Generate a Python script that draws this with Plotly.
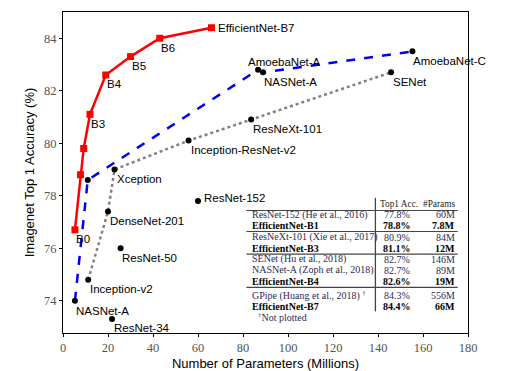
import plotly.graph_objects as go

# ---------------- data ----------------
eff_names = ["B0", "B1", "B2", "B3", "B4", "B5", "B6", "EfficientNet-B7"]
eff_params = [5.3, 7.8, 9.2, 12, 19, 30, 43, 66]
eff_acc = [76.7, 78.8, 79.8, 81.1, 82.6, 83.3, 84.0, 84.4]
eff_show_label = [True, False, False, True, True, True, True, True]

nas_names = ["NASNet-A", "", "AmoebaNet-A", "NASNet-A", "AmoebaNet-C"]
nas_params = [5.3, 11.0, 86.7, 88.9, 155.3]
nas_acc = [74.0, 78.6, 82.8, 82.7, 83.5]

gray_names = ["Inception-v2", "DenseNet-201", "Xception", "Inception-ResNet-v2", "ResNeXt-101", "SENet"]
gray_params = [11.2, 20.0, 22.9, 55.8, 83.6, 145.8]
gray_acc = [74.8, 77.4, 79.0, 80.1, 80.9, 82.7]

solo_names = ["ResNet-152", "ResNet-50", "ResNet-34"]
solo_params = [60.0, 25.6, 21.8]
solo_acc = [77.8, 76.0, 73.3]

x_ticks = [0, 20, 40, 60, 80, 100, 120, 140, 160, 180]
y_ticks = [74, 76, 78, 80, 82, 84]

tbl_model = ["ResNet-152", "EfficientNet-B1", "ResNeXt-101", "EfficientNet-B3",
             "SENet", "NASNet-A", "EfficientNet-B4", "GPipe", "EfficientNet-B7"]
tbl_cite = ["(He et al., 2016)", "", "(Xie et al., 2017)", "",
            "(Hu et al., 2018)", "(Zoph et al., 2018)", "", "(Huang et al., 2018) †", ""]
tbl_acc = ["77.8%", "78.8%", "80.9%", "81.1%", "82.7%", "82.7%", "82.6%", "84.3%", "84.4%"]
tbl_params = ["60M", "7.8M", "84M", "12M", "146M", "89M", "19M", "556M", "66M"]
tbl_bold = [False, True, False, True, False, False, True, False, True]

# ---------------- layout helpers ----------------
OFF = 8  # page body margin in the browser
W, H = 512 - OFF, 371 - OFF
# plot area in page pixels: x 63.3..468.3, y 12..333.3
PL, PR, PT, PB = 63.3, 468.3, 12.0, 333.3
ML = PL - OFF
MR = W - (PR - OFF)
MT = PT - OFF
MB = H - (PB - OFF)
XR = [0, 180]
YR = [72.77, 85.0]

def px_to_paper(px, py):
    return (px - PL) / (PR - PL), (PB - py) / (PB - PT)

SANS = "Liberation Sans, Arial, sans-serif"
SERIF = "Liberation Serif, Times New Roman, serif"

fig = go.Figure()

fig.add_trace(go.Scatter(x=gray_params, y=gray_acc, mode="lines+markers",
                         line=dict(color="#808080", width=2.5, dash="dot"),
                         marker=dict(color="black", size=6), hoverinfo="skip"))
fig.add_trace(go.Scatter(x=nas_params, y=nas_acc, mode="lines+markers",
                         line=dict(color="#0000ee", width=2.5, dash="dash"),
                         marker=dict(color="black", size=6), hoverinfo="skip"))
fig.add_trace(go.Scatter(x=solo_params, y=solo_acc, mode="markers",
                         marker=dict(color="black", size=6), hoverinfo="skip"))
fig.add_trace(go.Scatter(x=eff_params, y=eff_acc, mode="lines+markers",
                         line=dict(color="#ff0000", width=2.5),
                         marker=dict(color="#ff0000", size=7, symbol="square"), hoverinfo="skip"))

lab_font = dict(family=SANS, size=11.5, color="black")

def label(x, y, text, xs=0, ys=-10, xa="left", ya="middle"):
    fig.add_annotation(x=x, y=y, text=text, showarrow=False, xanchor=xa, yanchor=ya,
                       xshift=xs, yshift=ys, font=lab_font)

for n, x, y, s in zip(eff_names, eff_params, eff_acc, eff_show_label):
    if not s:
        continue
    if n.startswith("Efficient"):
        label(x, y, n, xs=4, ys=0)
    else:
        label(x, y, n, xs=-1, ys=-9.5)

for n, x, y in zip(nas_names, nas_params, nas_acc):
    if not n:
        continue
    if n == "AmoebaNet-A":
        label(x, y, n, xs=-12, ys=7.6)
    else:
        label(x, y, n, xs=-1, ys=-10)

for n, x, y in zip(gray_names, gray_params, gray_acc):
    label(x, y, n, xs=0, ys=-9.6)

for n, x, y in zip(solo_names, solo_params, solo_acc):
    if n == "ResNet-152":
        label(x, y, n, xs=4, ys=3)
    else:
        label(x, y, n, xs=-0.5, ys=-9.3)

# ---------------- table (positions in page pixels) ----------------
tx0, tx1 = 246.7, 458.0
vline_x = 375.7
row_ys = [215.0, 225.7, 237.5, 248.3, 259.7, 270.5, 281.3, 295.3, 306.3]
sep_ys = [231.7, 254.3, 287.7]
acc_cx, par_rx, name_lx = 397.5, 457.7, 250.0
tbl_size = 10.0
cite_col = "#2b2b55"

fig.add_shape(type="rect", xref="paper", yref="paper",
              x0=px_to_paper(tx0 - 2, 0)[0], x1=px_to_paper(tx1 + 2, 0)[0],
              y0=px_to_paper(0, 323)[1], y1=px_to_paper(0, 197)[1],
              fillcolor="white", line=dict(width=0), layer="above")

def tline(x0, y0, x1, y1, w=1, c="#444"):
    a = px_to_paper(x0, y0)
    b = px_to_paper(x1, y1)
    fig.add_shape(type="line", xref="paper", yref="paper", x0=a[0], y0=a[1], x1=b[0], y1=b[1],
                  line=dict(color=c, width=w), layer="above")

def ttext(px, py, text, xa, color="#222", bold=False, size=tbl_size):
    xp, yp = px_to_paper(px, py)
    fig.add_annotation(xref="paper", yref="paper", x=xp, y=yp, text=("<b>%s</b>" % text) if bold else text,
                       showarrow=False, xanchor=xa, yanchor="middle",
                       font=dict(family=SERIF, size=size, color=color))

ttext(378.5, 204.0, "Top1 Acc.", "left", size=9.3)
ttext(par_rx, 204.0, "#Params", "right", size=9.3)
tline(tx0, 210.7, tx1, 210.7, w=1.2)
tline(vline_x, 198, vline_x, 311.7, w=1.3)
for sy in sep_ys:
    tline(tx0, sy, tx1, sy, w=1.2)

for yy, m, ci, a, p, b in zip(row_ys, tbl_model, tbl_cite, tbl_acc, tbl_params, tbl_bold):
    if b:
        ttext(name_lx, yy, m, "left", color="black", bold=True)
        ttext(acc_cx, yy, a, "center", color="black", bold=True)
        ttext(par_rx, yy, p, "right", color="black", bold=True)
    else:
        txt = m + " " + ci.replace("†", "<sup>†</sup>")
        ttext(name_lx, yy, txt, "left", color=cite_col)
        ttext(acc_cx, yy, a, "center", color=cite_col)
        ttext(par_rx, yy, p, "right", color=cite_col)

ttext(256.0, 317.7, "<sup>†</sup>Not plotted", "left", color=cite_col)

# ---------------- axes ----------------
fig.update_xaxes(range=XR, tickvals=x_ticks, ticks="outside", ticklen=3, tickcolor="black",
                 showline=True, linecolor="black", linewidth=1.2, mirror=True, showgrid=False,
                 zeroline=False, automargin=False, tickfont=dict(family=SERIF, size=12.5, color="#555"),
                 title=dict(text="Number of Parameters (Millions)", standoff=9,
                            font=dict(family=SANS, size=13, color="black")))
fig.update_yaxes(range=YR, tickvals=y_ticks, ticks="outside", ticklen=3, tickcolor="black",
                 showline=True, linecolor="black", linewidth=1.2, mirror=True, showgrid=False,
                 zeroline=False, automargin=False, tickfont=dict(family=SERIF, size=12.5, color="#555"),
                 title=dict(text="Imagenet Top 1 Accuracy (%)", standoff=6,
                            font=dict(family=SANS, size=13, color="black")))

fig.update_layout(width=W, height=H, margin=dict(l=ML, r=MR, t=MT, b=MB, autoexpand=False),
                  plot_bgcolor="white", paper_bgcolor="white", showlegend=False)

fig.write_html("out.html")
